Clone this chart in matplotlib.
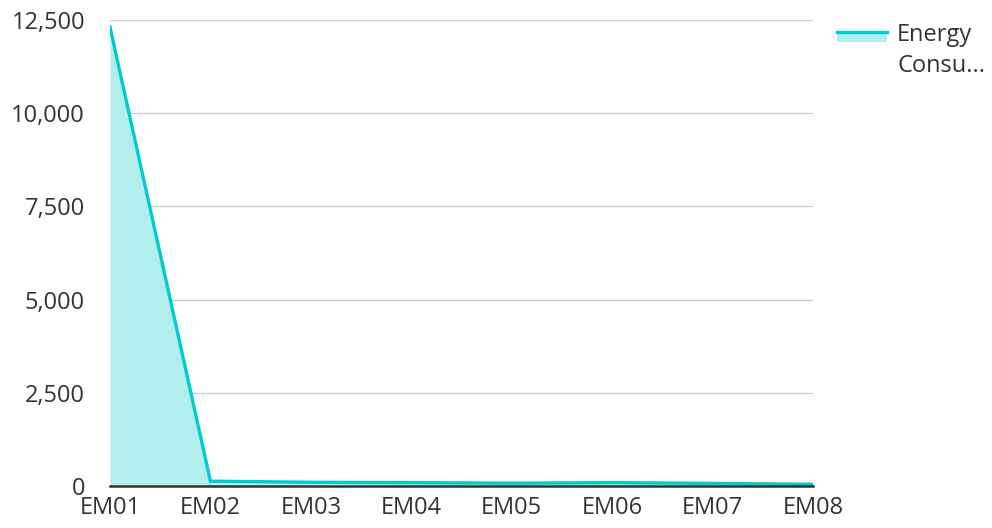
import matplotlib
matplotlib.use("Agg")
import matplotlib.pyplot as plt
from matplotlib.legend_handler import HandlerBase
from matplotlib.patches import Rectangle
from matplotlib.lines import Line2D

plt.rcParams['font.family'] = ['Open Sans', 'DejaVu Sans']

meters = ["EM01", "EM02", "EM03", "EM04", "EM05", "EM06", "EM07", "EM08"]
energy = [12310, 130, 100, 90, 75, 90, 70, 45]
yticks = [0, 2500, 5000, 7500, 10000, 12500]

line_col = '#00cccc'
fill_col = '#b3eeee'
text_col = '#333333'
fs = 17


class AreaHandler(HandlerBase):
    # line level with first text row, light fill underneath
    def create_artists(self, legend, orig, xd, yd, w, h, fontsize, trans):
        top = yd + h / 2 + 14
        r = Rectangle((xd, top - 7.5), w, 7.5, facecolor=fill_col,
                      edgecolor='none', transform=trans)
        l = Line2D([xd, xd + w], [top, top], color=line_col, lw=2.4,
                   transform=trans)
        return [r, l]


fig = plt.figure(figsize=(9.92, 5.28), dpi=100)
ax = fig.add_axes([110/992, 1-486/528, (813-110)/992, (486-20)/528])

x = range(len(meters))
ax.fill_between(x, energy, 0, color=fill_col, lw=0, zorder=2)
ax.plot(x, energy, color=line_col, lw=2.4, zorder=3, solid_joinstyle='miter')

ax.set_xlim(0, len(meters)-1)
ax.set_ylim(0, 12500)
ax.set_xticks(list(x))
ax.set_xticklabels(meters)
ax.set_yticks(yticks)
ax.set_yticklabels([f"{v:,}" for v in yticks])
ax.tick_params(axis='both', length=0, labelsize=fs, colors=text_col)
ax.tick_params(axis='y', pad=18)
ax.tick_params(axis='x', pad=7)
ax.grid(axis='y', color='#cccccc', lw=1, zorder=1)
ax.set_axisbelow(True)
for s in ['top', 'right', 'left']:
    ax.spines[s].set_visible(False)
ax.spines['bottom'].set_color('#333333')
ax.spines['bottom'].set_linewidth(1.8)
ax.spines['bottom'].set_zorder(4)

leg = ax.legend([Rectangle((0, 0), 1, 1)], ["Energy\nConsu..."],
                handler_map={Rectangle: AreaHandler()},
                loc='upper left', bbox_to_anchor=(837/992, 1-23/528),
                bbox_transform=fig.transFigure, frameon=False,
                fontsize=fs, labelcolor=text_col, handlelength=2.1,
                handletextpad=0.45, borderpad=0, borderaxespad=0)
leg.get_texts()[0].set_linespacing(1.4)

fig.savefig("out.png", dpi=100)
